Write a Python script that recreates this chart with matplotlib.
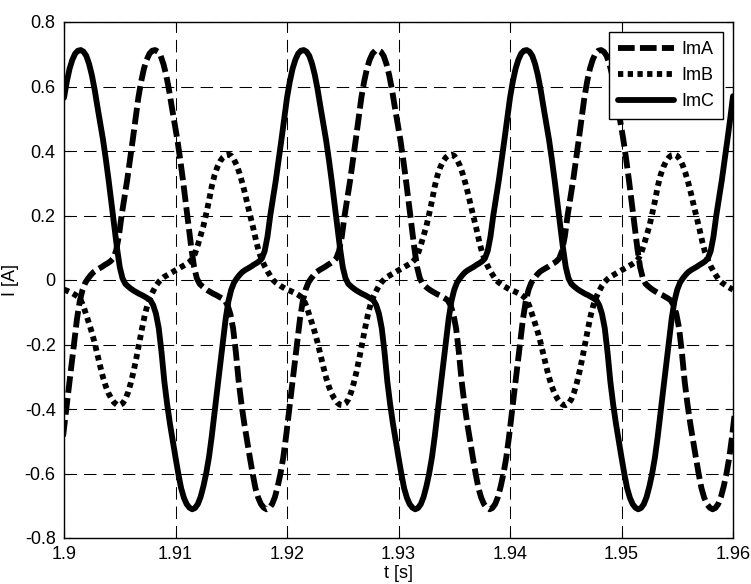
import numpy as np
import matplotlib
matplotlib.use("Agg")
import matplotlib.pyplot as plt

# ---------------- data ----------------
# samples every 0.25 ms; ImA sampled on a grid that starts slightly earlier
t_start, t_end, n_samples = 1.9, 1.96, 241
tA_start, tA_step = 1.8999167, 0.00025

imA = [
    -0.485, -0.410, -0.338, -0.265, -0.190, -0.120, -0.065,
    -0.030, -0.008, 0.005, 0.016, 0.025, 0.031, 0.036, 0.041, 0.047, 0.052,
    0.058, 0.067, 0.090, 0.135, 0.200, 0.255, 0.310, 0.372, 0.435, 0.500,
    0.565, 0.615, 0.655, 0.683, 0.702, 0.711, 0.713, 0.708, 0.695, 0.670,
    0.635, 0.590, 0.537, 0.487, 0.435, 0.375, 0.310, 0.240, 0.170, 0.100,
    0.040, 0.005, -0.012, -0.020, -0.027, -0.033, -0.038, -0.043, -0.047, -0.052,
    -0.057, -0.063, -0.078, -0.105, -0.150, -0.225, -0.315, -0.385, -0.445, -0.498,
    -0.550, -0.600, -0.645, -0.675, -0.695, -0.706, -0.711, -0.707, -0.695, -0.673,
    -0.640, -0.600, -0.550, -0.485, -0.410, -0.338, -0.265, -0.190, -0.120, -0.065,
    -0.030, -0.008, 0.005, 0.016, 0.025, 0.031, 0.036, 0.041, 0.047, 0.052,
    0.058, 0.067, 0.090, 0.135, 0.200, 0.255, 0.310, 0.372, 0.435, 0.500,
    0.565, 0.615, 0.655, 0.683, 0.702, 0.711, 0.713, 0.708, 0.695, 0.670,
    0.635, 0.590, 0.537, 0.487, 0.435, 0.375, 0.310, 0.240, 0.170, 0.100,
    0.040, 0.005, -0.012, -0.020, -0.027, -0.033, -0.038, -0.043, -0.047, -0.052,
    -0.057, -0.063, -0.078, -0.105, -0.150, -0.225, -0.315, -0.385, -0.445, -0.498,
    -0.550, -0.600, -0.645, -0.675, -0.695, -0.706, -0.711, -0.707, -0.695, -0.673,
    -0.640, -0.600, -0.550, -0.485, -0.410, -0.338, -0.265, -0.190, -0.120, -0.065,
    -0.030, -0.008, 0.005, 0.016, 0.025, 0.031, 0.036, 0.041, 0.047, 0.052,
    0.058, 0.067, 0.090, 0.135, 0.200, 0.255, 0.310, 0.372, 0.435, 0.500,
    0.565, 0.615, 0.655, 0.683, 0.702, 0.711, 0.713, 0.708, 0.695, 0.670,
    0.635, 0.590, 0.537, 0.487, 0.435, 0.375, 0.310, 0.240, 0.170, 0.100,
    0.040, 0.005, -0.012, -0.020, -0.027, -0.033, -0.038, -0.043, -0.047, -0.052,
    -0.057, -0.063, -0.078, -0.105, -0.150, -0.225, -0.315, -0.385, -0.445, -0.498,
    -0.550, -0.600, -0.645, -0.675, -0.695, -0.706, -0.711, -0.707, -0.695, -0.673,
    -0.640, -0.600, -0.550, -0.485, -0.410,
]

imB = [
    -0.030, -0.033, -0.037, -0.041, -0.046, -0.052, -0.062, -0.082, -0.108, -0.135,
    -0.163, -0.195, -0.232, -0.268, -0.302, -0.330, -0.352, -0.368, -0.380, -0.387,
    -0.388, -0.383, -0.370, -0.348, -0.318, -0.282, -0.240, -0.195, -0.150, -0.108,
    -0.075, -0.052, -0.034, -0.018, -0.006, 0.003, 0.010, 0.015, 0.020, 0.025,
    0.030, 0.035, 0.040, 0.045, 0.050, 0.056, 0.065, 0.082, 0.108, 0.137,
    0.167, 0.205, 0.245, 0.290, 0.325, 0.350, 0.368, 0.380, 0.387, 0.389,
    0.385, 0.373, 0.355, 0.330, 0.300, 0.266, 0.228, 0.192, 0.157, 0.118,
    0.085, 0.062, 0.043, 0.027, 0.013, 0.000, -0.008, -0.014, -0.020, -0.025,
    -0.030, -0.033, -0.037, -0.041, -0.046, -0.052, -0.062, -0.082, -0.108, -0.135,
    -0.163, -0.195, -0.232, -0.268, -0.302, -0.330, -0.352, -0.368, -0.380, -0.387,
    -0.388, -0.383, -0.370, -0.348, -0.318, -0.282, -0.240, -0.195, -0.150, -0.108,
    -0.075, -0.052, -0.034, -0.018, -0.006, 0.003, 0.010, 0.015, 0.020, 0.025,
    0.030, 0.035, 0.040, 0.045, 0.050, 0.056, 0.065, 0.082, 0.108, 0.137,
    0.167, 0.205, 0.245, 0.290, 0.325, 0.350, 0.368, 0.380, 0.387, 0.389,
    0.385, 0.373, 0.355, 0.330, 0.300, 0.266, 0.228, 0.192, 0.157, 0.118,
    0.085, 0.062, 0.043, 0.027, 0.013, 0.000, -0.008, -0.014, -0.020, -0.025,
    -0.030, -0.033, -0.037, -0.041, -0.046, -0.052, -0.062, -0.082, -0.108, -0.135,
    -0.163, -0.195, -0.232, -0.268, -0.302, -0.330, -0.352, -0.368, -0.380, -0.387,
    -0.388, -0.383, -0.370, -0.348, -0.318, -0.282, -0.240, -0.195, -0.150, -0.108,
    -0.075, -0.052, -0.034, -0.018, -0.006, 0.003, 0.010, 0.015, 0.020, 0.025,
    0.030, 0.035, 0.040, 0.045, 0.050, 0.056, 0.065, 0.082, 0.108, 0.137,
    0.167, 0.205, 0.245, 0.290, 0.325, 0.350, 0.368, 0.380, 0.387, 0.389,
    0.385, 0.373, 0.355, 0.330, 0.300, 0.266, 0.228, 0.192, 0.157, 0.118,
    0.085, 0.062, 0.043, 0.027, 0.013, 0.000, -0.008, -0.014, -0.020, -0.025,
    -0.030,
]

imC = [
    0.565, 0.615, 0.655, 0.683, 0.702, 0.711, 0.713, 0.708, 0.695, 0.670,
    0.635, 0.590, 0.537, 0.487, 0.435, 0.375, 0.310, 0.240, 0.170, 0.100,
    0.040, 0.005, -0.012, -0.020, -0.027, -0.033, -0.038, -0.043, -0.047, -0.052,
    -0.057, -0.063, -0.078, -0.105, -0.150, -0.225, -0.315, -0.385, -0.445, -0.498,
    -0.550, -0.600, -0.645, -0.675, -0.695, -0.706, -0.711, -0.707, -0.695, -0.673,
    -0.640, -0.600, -0.550, -0.485, -0.410, -0.338, -0.265, -0.190, -0.120, -0.065,
    -0.030, -0.008, 0.005, 0.016, 0.025, 0.031, 0.036, 0.041, 0.047, 0.052,
    0.058, 0.067, 0.090, 0.135, 0.200, 0.255, 0.310, 0.372, 0.435, 0.500,
    0.565, 0.615, 0.655, 0.683, 0.702, 0.711, 0.713, 0.708, 0.695, 0.670,
    0.635, 0.590, 0.537, 0.487, 0.435, 0.375, 0.310, 0.240, 0.170, 0.100,
    0.040, 0.005, -0.012, -0.020, -0.027, -0.033, -0.038, -0.043, -0.047, -0.052,
    -0.057, -0.063, -0.078, -0.105, -0.150, -0.225, -0.315, -0.385, -0.445, -0.498,
    -0.550, -0.600, -0.645, -0.675, -0.695, -0.706, -0.711, -0.707, -0.695, -0.673,
    -0.640, -0.600, -0.550, -0.485, -0.410, -0.338, -0.265, -0.190, -0.120, -0.065,
    -0.030, -0.008, 0.005, 0.016, 0.025, 0.031, 0.036, 0.041, 0.047, 0.052,
    0.058, 0.067, 0.090, 0.135, 0.200, 0.255, 0.310, 0.372, 0.435, 0.500,
    0.565, 0.615, 0.655, 0.683, 0.702, 0.711, 0.713, 0.708, 0.695, 0.670,
    0.635, 0.590, 0.537, 0.487, 0.435, 0.375, 0.310, 0.240, 0.170, 0.100,
    0.040, 0.005, -0.012, -0.020, -0.027, -0.033, -0.038, -0.043, -0.047, -0.052,
    -0.057, -0.063, -0.078, -0.105, -0.150, -0.225, -0.315, -0.385, -0.445, -0.498,
    -0.550, -0.600, -0.645, -0.675, -0.695, -0.706, -0.711, -0.707, -0.695, -0.673,
    -0.640, -0.600, -0.550, -0.485, -0.410, -0.338, -0.265, -0.190, -0.120, -0.065,
    -0.030, -0.008, 0.005, 0.016, 0.025, 0.031, 0.036, 0.041, 0.047, 0.052,
    0.058, 0.067, 0.090, 0.135, 0.200, 0.255, 0.310, 0.372, 0.435, 0.500,
    0.570,
]

series_labels = ["ImA", "ImB", "ImC"]
x_ticks = [1.9, 1.91, 1.92, 1.93, 1.94, 1.95, 1.96]
x_tick_labels = ["1.9", "1.91", "1.92", "1.93", "1.94", "1.95", "1.96"]
y_ticks = [-0.8, -0.6, -0.4, -0.2, 0, 0.2, 0.4, 0.6, 0.8]
y_tick_labels = ["-0.8", "-0.6", "-0.4", "-0.2", "0", "0.2", "0.4", "0.6", "0.8"]

# ---------------- figure ----------------
plt.rcParams["font.family"] = ["Liberation Sans", "DejaVu Sans"]
plt.rcParams["axes.unicode_minus"] = False
plt.rcParams["lines.scale_dashes"] = False

W, H = 751, 584
fig = plt.figure(figsize=(W / 100, H / 100), dpi=100)
ax = fig.add_axes([64 / W, 1 - 538 / H, (733 - 64) / W, (538 - 22) / H])

t = np.linspace(t_start, t_end, n_samples)
tA = tA_start + tA_step * np.arange(len(imA))
lw = 4.2
ax.plot(tA, imA, color="black", lw=lw, linestyle=(0, (12, 3.8)),
        dash_capstyle="butt", label=series_labels[0], zorder=3)
ax.plot(t, imB, color="black", lw=lw, linestyle=(0, (3.8, 3.2)),
        dash_capstyle="butt", label=series_labels[1], zorder=3)
ax.plot(t, imC, color="black", lw=lw, linestyle="-",
        solid_capstyle="round", label=series_labels[2], zorder=4)

ax.set_xlim(t_start, t_end)
ax.set_ylim(-0.8, 0.8)
ax.set_xticks(x_ticks)
ax.set_xticklabels(x_tick_labels)
ax.set_yticks(y_ticks)
ax.set_yticklabels(y_tick_labels)

ax.grid(True, color="black", lw=0.75, linestyle=(0, (9, 5)))
ax.tick_params(direction="in", top=True, right=True, length=5, width=0.8,
               labelsize=13, pad=6, colors="black")
for s in ax.spines.values():
    s.set_linewidth(1.0)
    s.set_color("black")

ax.set_xlabel("t [s]", fontsize=13, labelpad=1)
ax.set_ylabel("I [A]", fontsize=13, labelpad=4)

leg = ax.legend(loc="upper right", fontsize=13, frameon=True, fancybox=False,
                edgecolor="black", framealpha=1.0, borderpad=0.5,
                labelspacing=0.5, handlelength=3.1, handletextpad=0.4,
                borderaxespad=0.55)
leg.get_frame().set_linewidth(1.0)

fig.savefig("out.png", dpi=100)
